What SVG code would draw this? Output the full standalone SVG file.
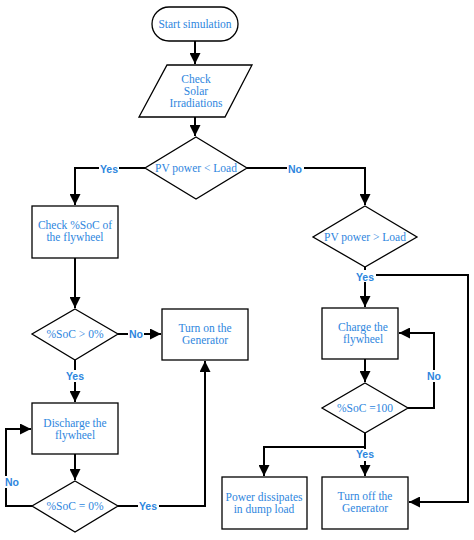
<svg xmlns="http://www.w3.org/2000/svg" width="474" height="540" viewBox="0 0 474 540">
<style>
.shape{fill:#fff;stroke:#000;stroke-width:1.3}
.t{font-family:"Liberation Serif","Times New Roman",serif;font-size:11.5px;fill:#2E86DE;text-anchor:middle}
.lbl{font-family:"Liberation Sans",Arial,sans-serif;font-size:10.5px;font-weight:bold;fill:#2E86DE;text-anchor:middle}
.c{fill:none;stroke:#000;stroke-width:2}
</style>
<defs>
<marker id="ah" viewBox="0 0 10 10" refX="10" refY="5" markerWidth="5.5" markerHeight="5.5" orient="auto" markerUnits="strokeWidth">
<path d="M0,0 L10,5 L0,10 z" fill="#000"/>
</marker>
</defs>
<rect width="474" height="540" fill="#fff"/>
<g id="connectors">
<path class="c" d="M195,41 V64" marker-end="url(#ah)"/>
<path class="c" d="M195,117 V136" marker-end="url(#ah)"/>
<path class="c" d="M145,168 H75 V205" marker-end="url(#ah)"/>
<path class="c" d="M247,168 H365 V205" marker-end="url(#ah)"/>
<path class="c" d="M75,258 V308" marker-end="url(#ah)"/>
<path class="c" d="M118,334 H161" marker-end="url(#ah)"/>
<path class="c" d="M75,360 V402" marker-end="url(#ah)"/>
<path class="c" d="M75,454 V480" marker-end="url(#ah)"/>
<path class="c" d="M32,506 H6 V429 H31" marker-end="url(#ah)"/>
<path class="c" d="M118,506 H205 V361" marker-end="url(#ah)"/>
<path class="c" d="M365,267 V307" marker-end="url(#ah)"/>
<path class="c" d="M365,275 H468 V502 H409" marker-end="url(#ah)"/>
<path class="c" d="M365,359 V382" marker-end="url(#ah)"/>
<path class="c" d="M408,408 H434 V333 H399" marker-end="url(#ah)"/>
<path class="c" d="M365,433 V476" marker-end="url(#ah)"/>
<path class="c" d="M365,447 H264 V476" marker-end="url(#ah)"/>
<g id="labels">
<rect x="99" y="163" width="20" height="12" fill="#fff"/>
<text class="lbl" x="109" y="173">Yes</text>
<rect x="287" y="163" width="17" height="12" fill="#fff"/>
<text class="lbl" x="295" y="173">No</text>
<rect x="128" y="328" width="16" height="12" fill="#fff"/>
<text class="lbl" x="136" y="338">No</text>
<rect x="65" y="370" width="21" height="12" fill="#fff"/>
<text class="lbl" x="75" y="380">Yes</text>
<rect x="4" y="476" width="17" height="12" fill="#fff"/>
<text class="lbl" x="12" y="486">No</text>
<rect x="138" y="500" width="21" height="12" fill="#fff"/>
<text class="lbl" x="148" y="510">Yes</text>
<rect x="355" y="270" width="21" height="12" fill="#fff"/>
<text class="lbl" x="365" y="281">Yes</text>
<rect x="426" y="370" width="17" height="12" fill="#fff"/>
<text class="lbl" x="434" y="380">No</text>
<rect x="355" y="449" width="21" height="12" fill="#fff"/>
<text class="lbl" x="365" y="458">Yes</text>
</g>
</g>
<g id="start">
<rect class="shape" x="152" y="7" width="86" height="34" rx="17"/>
<text class="t" x="195" y="28">Start simulation</text>
</g>
<g id="check-solar">
<polygon class="shape" points="167,65 252,65 225,117 139,117"/>
<text class="t" x="196" y="83">Check</text>
<text class="t" x="196" y="95">Solar</text>
<text class="t" x="196" y="107">Irradiations</text>
</g>
<g id="pv-less">
<polygon class="shape" points="196,137 247,168 196,199 145,168"/>
<text class="t" x="196" y="172">PV power &lt; Load</text>
</g>
<g id="check-soc">
<rect class="shape" x="32" y="206" width="86" height="52"/>
<text class="t" x="75" y="229">Check %SoC of</text>
<text class="t" x="75" y="241">the flywheel</text>
</g>
<g id="pv-greater">
<polygon class="shape" points="365,206 417,237 365,267 313,237"/>
<text class="t" x="365" y="241">PV power &gt; Load</text>
</g>
<g id="soc-gt0">
<polygon class="shape" points="75,309 118,334 75,360 32,334"/>
<text class="t" x="75" y="338">%SoC &gt; 0%</text>
</g>
<g id="turn-on">
<rect class="shape" x="162" y="309" width="86" height="51"/>
<text class="t" x="205" y="332">Turn on the</text>
<text class="t" x="205" y="344">Generator</text>
</g>
<g id="discharge">
<rect class="shape" x="32" y="403" width="86" height="51"/>
<text class="t" x="75" y="427">Discharge the</text>
<text class="t" x="75" y="439">flywheel</text>
</g>
<g id="soc-eq0">
<polygon class="shape" points="75,481 118,506 75,532 32,506"/>
<text class="t" x="75" y="510">%SoC = 0%</text>
</g>
<g id="charge">
<rect class="shape" x="322" y="308" width="76" height="51"/>
<text class="t" x="363" y="331">Charge the</text>
<text class="t" x="363" y="343">flywheel</text>
</g>
<g id="soc-100">
<polygon class="shape" points="365,383 408,408 365,433 322,408"/>
<text class="t" x="365" y="412">%SoC =100</text>
</g>
<g id="dump">
<rect class="shape" x="222" y="477" width="85" height="52"/>
<text class="t" x="264" y="501">Power dissipates</text>
<text class="t" x="264" y="513">in dump load</text>
</g>
<g id="turn-off">
<rect class="shape" x="322" y="477" width="86" height="52"/>
<text class="t" x="365" y="500">Turn off the</text>
<text class="t" x="365" y="512">Generator</text>
</g>
</svg>
